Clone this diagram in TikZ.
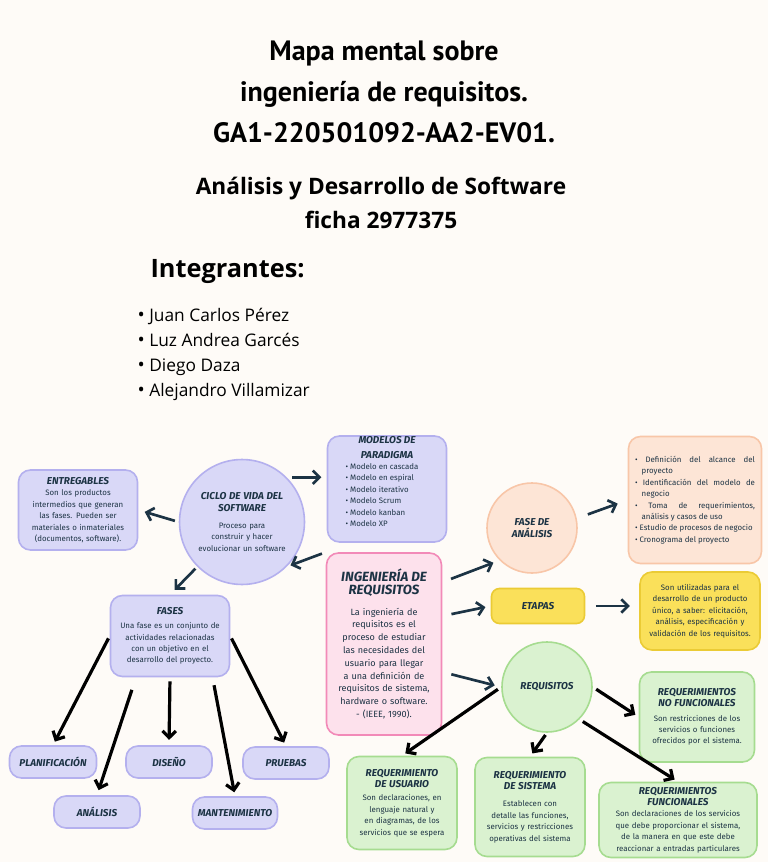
\documentclass[tikz,border=0pt]{standalone}
\usepackage{fontspec}
\setmainfont{Fira Sans}
\newfontfamily\ttl{PT Sans}
\newfontfamily\sub{Open Sans}
\usetikzlibrary{arrows.meta}
\definecolor{bg}{HTML}{FEFBF7}
\definecolor{navy}{HTML}{1C3344}
\definecolor{lavf}{HTML}{D9D8F7}\definecolor{lavd}{HTML}{B4B0EE}
\definecolor{pinkf}{HTML}{FDE1EC}\definecolor{pinkd}{HTML}{F28AB8}
\definecolor{peachf}{HTML}{FDE5D6}\definecolor{peachd}{HTML}{F8C6A8}
\definecolor{yelf}{HTML}{FAE05A}\definecolor{yeld}{HTML}{EBCB35}
\definecolor{grnf}{HTML}{DAF2D0}\definecolor{grnd}{HTML}{A6DC90}
\newcommand{\hd}[1]{{\fontsize{7.5}{9}\selectfont\bfseries\itshape #1}}
\newcommand{\bd}{\fontsize{5.9}{8.6}\selectfont\hyphenpenalty=10000\relax\exhyphenpenalty=10000\relax}
\newcommand{\ingfont}{\fontsize{6.8}{9.6}\selectfont\hyphenpenalty=10000\relax}
\tikzset{
 every node/.style={text=navy,inner sep=1pt},
 box/.style={draw,rounded corners=9pt,line width=1.2pt,align=center,font=\bd},
 lav/.style={box,fill=lavf,draw=lavd},
 grn/.style={box,fill=grnf,draw=grnd},
 circ/.style={circle,draw,line width=1.2pt,align=center,font=\bd},
 narr/.style={navy,line width=2pt,-{Straight Barb[length=5pt,width=10pt]}},
 barr/.style={black,line width=2.4pt,-{Straight Barb[length=5pt,width=10pt]}},
}
\begin{document}
\begin{tikzpicture}[x=0.75pt,y=-0.75pt]
\fill[bg] (0,0) rectangle (768,862);
\useasboundingbox (0,0) rectangle (768,862);
% title
\node[font=\ttl\bfseries\fontsize{21}{25}\selectfont,text=black,align=center] (t1) at (384,92) {Mapa mental sobre\\[6pt] ingeniería de requisitos.\\[6pt] GA1-220501092-AA2-EV01.};
\node[font=\sub\bfseries\fontsize{17}{26}\selectfont,text=black,align=center] (t2) at (381,203) {Análisis y Desarrollo de Software\\ ficha 2977375};
\node[font=\sub\bfseries\fontsize{19}{22}\selectfont,text=black,anchor=west] (t3) at (149,272) {Integrantes:};
\node[font=\sub\fontsize{13}{18.6}\selectfont,text=black,anchor=north west,align=left] (t4) at (136,307) {{\Large\textbullet}\ Juan Carlos Pérez\\ {\Large\textbullet}\ Luz Andrea Garcés\\ {\Large\textbullet}\ Diego Daza\\ {\Large\textbullet}\ Alejandro Villamizar};
% nodes
\node[lav,minimum width=119*0.75pt,minimum height=80*0.75pt,text width=82pt] (ent) at (78,510) {\hd{ENTREGABLES}\\ Son los productos intermedios que generan las fases. Pueden ser materiales o inmateriales (documentos, software).};
\node[circ,fill=lavf,draw=lavd,minimum size=116*0.75pt,text width=80pt] (cic) at (242,522) {\hd{CICLO DE VIDA DEL}\\\hd{SOFTWARE}\\[4pt] Proceso para construir y hacer evolucionar un software};
\node[lav,minimum width=119*0.75pt,minimum height=106*0.75pt] (mod) at (387,489) {};
\node[anchor=north,align=center] (modh) at (387,435) {\hd{MODELOS DE}\\[-1pt]\hd{PARADIGMA}};
\node[anchor=north west,align=left,font=\bd] (modl) at (344,462) {\textbullet\ Modelo en cascada\\ \textbullet\ Modelo en espiral\\ \textbullet\ Modelo iterativo\\ \textbullet\ Modelo Scrum\\ \textbullet\ Modelo kanban\\ \textbullet\ Modelo XP};
\node[box,fill=pinkf,draw=pinkd,minimum width=115*0.75pt,minimum height=182*0.75pt,text width=80pt,font=\ingfont] (ing) at (384,644) {{\fontsize{10}{12}\selectfont\bfseries\itshape INGENIERÍA DE\\ REQUISITOS}\\[6pt] La ingeniería de requisitos es el proceso de estudiar las necesidades del usuario para llegar a una definición de requisitos de sistema, hardware o software.\\ - (IEEE, 1990).};
\node[lav,minimum width=119*0.75pt,minimum height=81*0.75pt,text width=82pt] (fas) at (170,636) {\hd{FASES}\\[2pt] Una fase es un conjunto de actividades relacionadas con un objetivo en el desarrollo del proyecto.};
\node[lav,minimum width=87*0.75pt,minimum height=32*0.75pt] (pla) at (53,762) {\hd{PLANIFICACIÓN}};
\node[lav,minimum width=86*0.75pt,minimum height=32*0.75pt] (ana) at (97,812) {\hd{ANÁLISIS}};
\node[lav,minimum width=86*0.75pt,minimum height=32*0.75pt] (dis) at (169,762) {\hd{DISEÑO}};
\node[lav,minimum width=85*0.75pt,minimum height=32*0.75pt] (man) at (235,813) {\hd{MANTENIMIENTO}};
\node[lav,minimum width=86*0.75pt,minimum height=32*0.75pt] (pru) at (286,763) {\hd{PRUEBAS}};
\node[circ,fill=peachf,draw=peachd,minimum size=90*0.75pt] (fan) at (532,528) {\hd{FASE DE}\\\hd{ANÁLISIS}};
\node[box,fill=peachf,draw=peachd,minimum width=133*0.75pt,minimum height=127*0.75pt,text width=90pt,align=justify,execute at begin node={\parindent=0pt}] (pea) at (695,500) {\hangindent=5pt\hangafter=1 \textbullet\ Definición del alcance del proyecto\par\hangindent=5pt\hangafter=1 \textbullet\ Identificación del modelo de negocio\par\hangindent=5pt\hangafter=1 \textbullet\ Toma de requerimientos, análisis y casos de uso\par\hangindent=5pt\hangafter=1 \textbullet\ Estudio de procesos de negocio\par\hangindent=5pt\hangafter=1 \textbullet\ Cronograma del proyecto};
\node[box,fill=yelf,draw=yeld,minimum width=93*0.75pt,minimum height=35*0.75pt,rounded corners=6pt] (eta) at (538,606) {\hd{ETAPAS}};
\node[box,fill=yelf,draw=yeld,minimum width=120*0.75pt,minimum height=78*0.75pt,text width=84pt] (yel) at (700,611) {Son utilizadas para el desarrollo de un producto único, a saber: elicitación, análisis, especificación y validación de los requisitos.};
\node[circ,fill=grnf,draw=grnd,minimum size=90*0.75pt] (req) at (547,687) {\hd{REQUISITOS}};
\node[grn,minimum width=115*0.75pt,minimum height=90*0.75pt,text width=80pt] (nof) at (697,717) {\hd{REQUERIMIENTOS}\\\hd{NO FUNCIONALES}\\[2pt] Son restricciones de los servicios o funciones ofrecidos por el sistema.};
\node[grn,minimum width=110*0.75pt,minimum height=93*0.75pt,text width=78pt] (usu) at (402,803) {\hd{REQUERIMIENTO}\\\hd{DE USUARIO}\\[1pt] Son declaraciones, en lenguaje natural y en diagramas, de los servicios que se espera};
\node[grn,minimum width=110*0.75pt,minimum height=99*0.75pt,text width=80pt] (sis) at (530,807) {\hd{REQUERIMIENTO}\\\hd{DE SISTEMA}\\[4pt] Establecen con detalle las funciones, servicios y restricciones operativas del sistema};
\node[grn,minimum width=158*0.75pt,minimum height=75*0.75pt,text width=114pt] (fun) at (678,820) {\hd{REQUERIMIENTOS}\\\hd{FUNCIONALES}\\[0pt] Son declaraciones de los servicios que debe proporcionar el sistema, de la manera en que este debe reaccionar a entradas particulares};
% connectors
\draw[narr,shorten <=4pt,shorten >=4pt] (cic.north east) -- (mod.west|-cic.north east);
\draw[narr,shorten <=3pt,shorten >=5pt] (cic.west) -- (ent.east);
\draw[narr,shorten <=2pt,shorten >=5pt] (cic.south west) -- (fas.north);
\draw[narr,shorten <=3pt,shorten >=3pt] (ing.north west) -- (cic.south east);
\draw[narr,shorten <=7pt,shorten >=5pt] (ing.east|-ing.north) ++(0,30) -- (fan.south west);
\draw[narr,shorten <=7pt,shorten >=4pt] (ing.east|-eta) ++(0,10) -- (eta.west);
\draw[narr,shorten <=7pt,shorten >=5pt] (ing.east|-req) ++(0,-15) -- (req.west);
\draw[narr,shorten <=8pt,shorten >=8pt] (fan.east) ++(0,-10) -- (pea.west);
\draw[narr,shorten <=8pt,shorten >=7pt] (eta.east) -- (yel.west|-eta.east);
\draw[barr,shorten <=2pt,shorten >=3pt] (fas.west) -- (pla.north);
\draw[barr,shorten <=2pt,shorten >=4pt] (fas.south west) ++(23,10) -- (ana.north);
\draw[barr,shorten <=3pt,shorten >=4pt] (fas.south) -- (dis.north);
\draw[barr,shorten <=3pt,shorten >=3pt] (fas.south east) ++(-17,4) -- (man.north);
\draw[barr,shorten <=2pt,shorten >=3pt] (fas.east) -- (pru.north);
\draw[barr,shorten <=3pt,shorten >=3pt] (req.west) -- (usu.north);
\draw[barr,shorten <=2pt,shorten >=3pt] (req.south) -- (sis.north);
\draw[barr,shorten <=3pt,shorten >=3pt] (req.east) -- (nof.west);
\draw[barr,shorten <=3pt,shorten >=3pt] (req.south east) -- (fun.north);
\end{tikzpicture}
\end{document}
